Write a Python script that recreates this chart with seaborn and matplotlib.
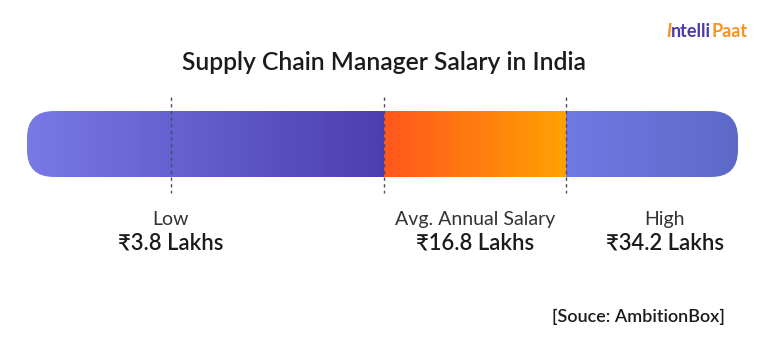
import numpy as np
import matplotlib
matplotlib.use("Agg")
import matplotlib.pyplot as plt
import seaborn as sns
from matplotlib.patches import FancyBboxPatch

# ---------------- data ----------------
title = "Supply Chain Manager Salary in India"
levels = ["Low", "Avg. Annual Salary", "High"]
salary_lakhs = [3.8, 16.8, 34.2]
salary_text = ["₹3.8 Lakhs", "₹16.8 Lakhs", "₹34.2 Lakhs"]
source_text = "[Souce: AmbitionBox]"
bar_range = [0.0, 45.0]          # conceptual ends of the bar (lakhs)

# ---------------- layout (pixels of a 768x356 canvas) ----------------
W, H = 768, 356
ANCHOR_PX = [0.0, 27.0, 171.0, 384.0, 566.0, 738.0, 768.0]
BAR_TOP, BAR_BOTTOM = 111, 177
LINE_TOP, LINE_BOTTOM = 97, 193
ROUND = 27
LABEL_X = [171, 475, 665]

anchor_vals = [bar_range[0] - 1.0, bar_range[0], *salary_lakhs, bar_range[1], bar_range[1] + 1.0]


def forward(v):
    return np.interp(v, anchor_vals, ANCHOR_PX)


def inverse(p):
    return np.interp(p, ANCHOR_PX, anchor_vals)


sns.set_theme(style="white")
FONT = ["Lato", "DejaVu Sans"]
plt.rcParams["font.family"] = FONT

fig = plt.figure(figsize=(W / 100, H / 100), dpi=100)
ax = fig.add_axes([0, 0, 1, 1])
ax.set_xscale("function", functions=(forward, inverse))
ax.set_xlim(anchor_vals[0], anchor_vals[-1])
ax.set_ylim(H, 0)
ax.axis("off")

scaled = ax.transLimits + ax.transAxes  # scaled (pixel-like) coordinates

x0, x1 = float(forward(bar_range[0])), float(forward(bar_range[1]))
clip = FancyBboxPatch((x0, BAR_TOP), x1 - x0, BAR_BOTTOM - BAR_TOP,
                      boxstyle=f"round,pad=0,rounding_size={ROUND}",
                      transform=scaled, facecolor="none", edgecolor="none")

segments = [
    (bar_range[0], salary_lakhs[1], "#7779e6", "#4d3db1"),
    (salary_lakhs[1], salary_lakhs[2], "#ff561c", "#ffa102"),
    (salary_lakhs[2], bar_range[1], "#6f79e3", "#5d69c7"),
]
for a, b, c0, c1 in segments:
    px = np.linspace(forward(a), forward(b), 161)
    xe = inverse(px)
    C = np.linspace(0, 1, 160)[None, :]
    mesh = ax.pcolormesh(xe, [BAR_TOP, BAR_BOTTOM], C,
                         cmap=sns.blend_palette([c0, c1], as_cmap=True),
                         shading="flat", zorder=1)
    mesh.set_clip_path(clip)

ax.vlines(salary_lakhs, LINE_TOP, LINE_BOTTOM, colors="#4a4a66",
          linestyles=(0, (2.4, 2.4)), lw=1.0, zorder=3)

# title
ax.text(W / 2, 62, title, transform=scaled, ha="center", va="center",
        fontsize=17.7, fontweight="semibold", color="#1b1b1b")

# labels
for lx, lev, val in zip(LABEL_X, levels, salary_text):
    ax.text(lx, 225, lev, transform=scaled, ha="center", va="baseline",
            fontsize=14, color="#333333")
    ax.text(lx, 250, val, transform=scaled, ha="center", va="baseline",
            fontsize=15.8, fontweight="semibold", color="#1b1b1b")

ax.text(725, 322, source_text, transform=scaled, ha="right", va="baseline",
        fontsize=13, fontweight="semibold", color="#1b1b1b")

# logo
t1 = ax.text(666, 37, "I", transform=scaled, ha="left", va="baseline",
             fontsize=13, fontweight="bold", fontstyle="italic", color="#f7931e")
t2 = ax.annotate("ntelli", xy=(1, 0), xycoords=t1, va="bottom", ha="left",
                 fontsize=13, fontweight="bold", color="#4b3ba8")
ax.annotate("Paat", xy=(1, 0), xycoords=t2, xytext=(0.5, 0),
            textcoords="offset points", va="bottom", ha="left",
            fontsize=13, fontweight="bold", color="#f7931e")

fig.savefig("out.png", dpi=100, facecolor="white")
